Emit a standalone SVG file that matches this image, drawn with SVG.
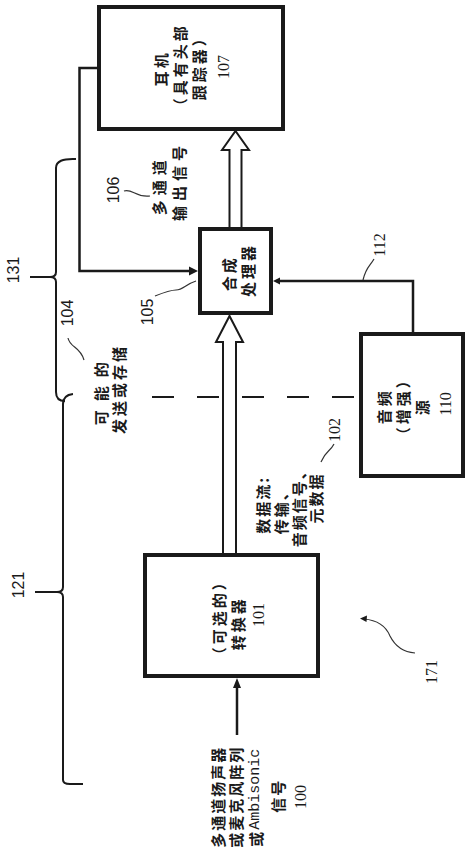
<svg xmlns="http://www.w3.org/2000/svg" width="474" height="849" viewBox="0 0 474 849">
<defs>
<style>
.box{fill:#fff;stroke:#1a1a1a;stroke-width:4}
.ln{fill:none;stroke:#1a1a1a;stroke-width:2.5}
.thin{fill:none;stroke:#1a1a1a;stroke-width:2}
.lead{fill:none;stroke:#333;stroke-width:1.2}
.hollow{fill:#fff;stroke:#1a1a1a;stroke-width:2;stroke-linejoin:miter}
.head{fill:#1a1a1a;stroke:none}
.cjk{font-family:"Noto Sans CJK SC","Noto Sans",sans-serif;font-size:15px;font-weight:700;fill:#1a1a1a;letter-spacing:3px}
.ns{font-family:"Liberation Serif",serif;font-size:16px;fill:#1a1a1a;font-weight:400;letter-spacing:0}
.nsans{font-family:"Liberation Sans",sans-serif;font-size:16px;fill:#1a1a1a}
.mono{font-family:"Liberation Mono",monospace;font-weight:400;letter-spacing:0}
text{dominant-baseline:central;text-anchor:middle}
</style>
</defs>

<g id="connectors">
  <!-- headphone tracker feedback into 105 -->
  <path class="ln" d="M97,68 L79.5,68 L79.5,271 L190,271"/>
  <polygon class="head" points="198,271 189,266.5 189,275.5"/>
  <!-- 112 from audio source -->
  <path class="ln" d="M413,332 L413,281 L279,281"/>
  <polygon class="head" points="273,281 280,277.5 280,284.5"/>
  <!-- input into 101 -->
  <path class="ln" d="M237,735 L237,686"/>
  <polygon class="head" points="237,678 233,688 241,688"/>
  <!-- hollow arrow 105 -> 107 -->
  <path class="hollow" d="M229.5,227 L229.5,150 L222,150 L235.5,131 L249,150 L241.5,150 L241.5,227"/>
  <!-- hollow arrow 101 -> 105 -->
  <path class="hollow" d="M223,553 L223,342 L216,342 L229.5,316 L243,342 L236,342 L236,553"/>
  <!-- dashed boundary -->
  <path class="thin" d="M152,397 L362,397" stroke-dasharray="22 23"/>
  <!-- braces -->
  <path class="thin" d="M76,159 Q56,158 56,168 L56,272 Q56,277 50,277 L30,277 M50,277 Q56,277 56,282 L56,392 Q56,401 65,401"/>
  <path class="thin" d="M73,394 Q63,395 63,404 L63,587 Q63,592 57,592 L35,592 M57,592 Q63,592 63,597 L63,780 Q63,784 70,784 L83,784"/>
  <!-- leaders -->
  <path class="lead" d="M124,191 C132,188 136,198 150,196"/>
  <path class="lead" d="M155,296 C165,292 170,290 176,290 C183,290 186,284 196,281"/>
  <path class="lead" d="M68,338 C70,348 80,346 84,360"/>
  <path class="lead" d="M334,444 C330,452 326,450 321,462"/>
  <path class="lead" d="M374,259 C370,266 366,267 363,280"/>
  <path class="lead" d="M415,653 C402,652 395,646 390,636 C385,624 376,620 364,619"/>
  <polygon class="head" points="360,618.5 367,615.5 366.5,622"/>
</g>

<g id="node-107">
  <rect class="box" x="99" y="7" width="184" height="122"/>
  <text class="cjk" transform="translate(190,67) rotate(-90)">
    <tspan x="2" y="-30">耳机</tspan>
    <tspan x="2" y="-11">（具有头部</tspan>
    <tspan x="6" y="8">跟踪器）</tspan>
    <tspan class="ns" x="0" y="33">107</tspan>
  </text>
</g>

<g id="node-105">
  <rect class="box" x="200" y="229" width="71" height="84"/>
  <text class="cjk" transform="translate(236,271) rotate(-90)">
    <tspan x="1" y="-8">合成</tspan>
    <tspan x="1" y="11">处理器</tspan>
  </text>
</g>

<g id="node-101">
  <rect class="box" x="145" y="555" width="173" height="121"/>
  <text class="cjk" transform="translate(231,615) rotate(-90)">
    <tspan x="1" y="-13">（可选的）</tspan>
    <tspan x="-5" y="6">转换器</tspan>
    <tspan class="ns" x="0" y="27">101</tspan>
  </text>
</g>

<g id="node-110">
  <rect class="box" x="361" y="334" width="102" height="142"/>
  <text class="cjk" transform="translate(411,404) rotate(-90)">
    <tspan x="1" y="-28">音频</tspan>
    <tspan x="1" y="-9">（增强）</tspan>
    <tspan x="1" y="10">源</tspan>
    <tspan class="ns" x="0" y="34">110</tspan>
  </text>
</g>

<g id="label-106">
  <text class="nsans" transform="translate(113,190) rotate(-90)">106</text>
  <text class="cjk" transform="translate(168,183) rotate(-90)" style="letter-spacing:5px">
    <tspan x="2" y="-10">多通道</tspan>
    <tspan x="2" y="10">输出信号</tspan>
  </text>
</g>

<g id="label-104">
  <text class="nsans" transform="translate(67,313) rotate(-90)">104</text>
  <text class="cjk" transform="translate(108,390) rotate(-90)">
    <tspan x="4" y="-8" style="letter-spacing:9px">可能的</tspan>
    <tspan x="1" y="10">发送或存储</tspan>
  </text>
</g>

<g id="label-105">
  <text class="nsans" transform="translate(147,312) rotate(-90)">105</text>
</g>

<g id="label-102">
  <text class="ns" transform="translate(334,430) rotate(-90)">102</text>
  <text class="cjk" transform="translate(288,503) rotate(-90)" style="letter-spacing:2px">
    <tspan x="1" y="-26">数据流:</tspan>
    <tspan x="-3" y="-8">传输、</tspan>
    <tspan x="1" y="10">音频信号、</tspan>
    <tspan x="5" y="27">元数据</tspan>
  </text>
</g>

<g id="label-112">
  <text class="ns" transform="translate(379,245) rotate(-90)">112</text>
</g>

<g id="label-100">
  <text class="cjk" transform="translate(245,795) rotate(-90)" style="letter-spacing:2px">
    <tspan x="1" y="-28">多通道扬声器</tspan>
    <tspan x="1" y="-10">或麦克风阵列</tspan>
    <tspan x="0" y="10">或<tspan class="mono">Ambisonic</tspan></tspan>
    <tspan x="2" y="32">信号</tspan>
    <tspan class="ns" x="-2" y="55">100</tspan>
  </text>
</g>

<g id="label-131">
  <text class="nsans" transform="translate(13,270) rotate(-90)">131</text>
</g>
<g id="label-121">
  <text class="nsans" transform="translate(18,585) rotate(-90)">121</text>
</g>
<g id="label-171">
  <text class="ns" transform="translate(431,672) rotate(-90)">171</text>
</g>
</svg>
